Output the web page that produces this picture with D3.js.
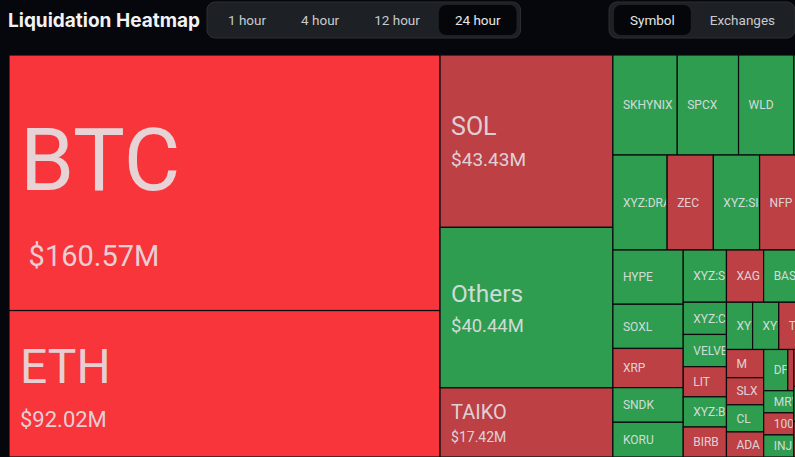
<!DOCTYPE html>
<meta charset="utf-8">
<style>
  html, body { margin: 0; padding: 0; background: #06070c; }
  svg { display: block; }
  .cell rect { stroke: #0a0a0e; stroke-width: 1.2px; }
  .cell text { font-family: Roboto, "Noto Sans", sans-serif; fill: #e4e4e8; fill-opacity: 0.9; }
  .btn text { font-family: Roboto, "Noto Sans", sans-serif; font-size: 13.5px; fill: #c9cacd; }
  .title { font-family: Inter, Roboto, sans-serif; font-weight: 700; font-size: 19px; fill: #f2f2f4; }
</style>
<body>
  <script src="https://cdn.jsdelivr.net/npm/d3@7"></script>
  <script>

    var width = 795, height = 457;

    // header buttons
    var timeframes = ["1 hour", "4 hour", "12 hour", "24 hour"];
    var groupings = ["Symbol", "Exchanges"];
    var activeTimeframe = "24 hour", activeGrouping = "Symbol";

    // liquidation totals, $M (tone: hot = heavy long liq, down = long, up = short)
    var majors = [
      { name: "BTC", value: 160.57, tone: "hot" },
      { name: "ETH", value: 92.02, tone: "hot" }
    ];
    var mids = [
      { name: "SOL", value: 43.43, tone: "down" },
      { name: "Others", value: 40.44, tone: "up" },
      { name: "TAIKO", value: 17.42, tone: "down" }
    ];
    var rowA = [
      { name: "SKHYNIX", value: 9.38, tone: "up" },
      { name: "SPCX", value: 8.94, tone: "up" },
      { name: "WLD", value: 8.06, tone: "up" },
      { name: "PUMP", value: 5.42, tone: "up" }
    ];
    var rowB = [
      { name: "XYZ:DRAM", value: 7.51, tone: "up" },
      { name: "ZEC", value: 6.40, tone: "down" },
      { name: "XYZ:SILVER", value: 6.40, tone: "up" },
      { name: "NFP", value: 5.70, tone: "down" },
      { name: "TRUMP", value: 4.19, tone: "down" }
    ];
    var stackA = [
      { name: "HYPE", value: 5.56, tone: "up" },
      { name: "SOXL", value: 4.53, tone: "up" },
      { name: "XRP", value: 4.02, tone: "down" },
      { name: "SNDK", value: 3.55, tone: "up" },
      { name: "KORU", value: 3.56, tone: "up" }
    ];
    var stackB = [
      { name: "XYZ:SP500", value: 3.29, tone: "up" },
      { name: "XYZ:COPPER", value: 2.03, tone: "up" },
      { name: "VELVET", value: 2.03, tone: "up" },
      { name: "LIT", value: 1.90, tone: "down" },
      { name: "XYZ:BABA", value: 1.90, tone: "up" },
      { name: "BIRB", value: 1.89, tone: "down" }
    ];
    var rowC1 = [
      { name: "XAG", value: 2.83, tone: "down" },
      { name: "BASED", value: 2.83, tone: "up" },
      { name: "ENA", value: 2.30, tone: "down" }
    ];
    var rowC2 = [
      { name: "XYZ:NVDA", value: 1.80, tone: "up" },
      { name: "XYZ:TSLA", value: 1.80, tone: "up" },
      { name: "TAO", value: 1.80, tone: "down" },
      { name: "SUI", value: 1.80, tone: "up" }
    ];
    var stackC1 = [
      { name: "M", value: 1.53, tone: "down" },
      { name: "SLX", value: 1.47, tone: "down" },
      { name: "CL", value: 1.47, tone: "up" },
      { name: "ADA", value: 1.36, tone: "down" }
    ];
    var pairDF = [
      { name: "DF", value: 1.45, tone: "up" },
      { name: "ASTER", value: 0.36, tone: "down" }
    ];
    var stackC2 = [
      { name: "MRVL", value: 0.97, tone: "up" },
      { name: "1000PEPE", value: 0.97, tone: "down" },
      { name: "INJ", value: 0.97, tone: "up" }
    ];
    var stackC3 = [
      { name: "LINK", value: 2.00, tone: "down" },
      { name: "AVAX", value: 1.90, tone: "up" },
      { name: "DOGE", value: 1.93, tone: "down" }
    ];

    var color = d3.scaleOrdinal()
      .domain(["hot", "down", "up"])
      .range(["#f8353a", "#bd4044", "#2f9d50"]);

    // label sizes for the cells that also show the amount
    var labelSize = d3.scaleLinear().domain([17.42, 43.43, 92.02, 160.57]).range([20, 25, 48, 87]);
    var amountSize = d3.scaleLinear().domain([17.42, 43.43, 92.02, 160.57]).range([14, 19, 22, 29]);

    var svg = d3.select("body").append("svg")
      .attr("width", width)
      .attr("height", height);

    // ---- header ----
    svg.append("text").attr("class", "title")
      .attr("x", 8).attr("y", 27)
      .text("Liquidation Heatmap");

    function buttonGroup(labels, active, x0) {
      var g = svg.append("g").attr("class", "btn");
      var bg = g.append("rect")
        .attr("y", 2).attr("height", 36).attr("rx", 8)
        .attr("fill", "#1d2025").attr("stroke", "#2b2e34");
      var x = x0 + 5;
      labels.forEach(function (label) {
        var b = g.append("g");
        var r = b.append("rect").attr("y", 5).attr("height", 30).attr("rx", 7)
          .attr("fill", label === active ? "#05060a" : "none");
        var t = b.append("text").attr("y", 25).text(label)
          .style("fill", label === active ? "#e6e6e8" : null);
        var w = t.node().getComputedTextLength() + 32;
        r.attr("x", x).attr("width", w);
        t.attr("x", x + w / 2).attr("text-anchor", "middle");
        x += w + 3;
      });
      bg.attr("x", x0).attr("width", x - x0 + 1);
    }
    buttonGroup(timeframes, activeTimeframe, 207);
    buttonGroup(groupings, activeGrouping, 609);

    // ---- treemap ----
    var data = { name: "root", children: [
      { name: "majors", children: majors },
      { name: "mids", children: mids },
      { name: "rest", children: [
        { name: "rowA", children: rowA },
        { name: "rowB", children: rowB },
        { name: "lower", children: [
          { name: "stackA", children: stackA },
          { name: "stackB", children: stackB },
          { name: "stackC", children: [
            { name: "rowC1", children: rowC1 },
            { name: "rowC2", children: rowC2 },
            { name: "tail", children: [
              { name: "stackC1", children: stackC1 },
              { name: "stackC2", children: [{ name: "pairDF", children: pairDF }].concat(stackC2) },
              { name: "stackC3", children: stackC3 }
            ] }
          ] }
        ] }
      ] }
    ] };

    var root = d3.hierarchy(data).sum(function (d) { return d.value || 0; });

    // map runs past the right edge of the window, like the page does
    d3.treemap()
      .tile(d3.treemapSliceDice)
      .size([822, 402])
      (root);

    var map = svg.append("g").attr("transform", "translate(9,55)");

    var leaf = map.selectAll("g")
      .data(root.leaves())
      .join("g")
      .attr("class", "cell")
      .attr("transform", function (d) { return "translate(" + d.x0 + "," + d.y0 + ")"; });

    leaf.append("clipPath")
      .attr("id", function (d, i) { return "clip" + i; })
      .append("rect")
      .attr("width", function (d) { return Math.max(0, d.x1 - d.x0 - 1); })
      .attr("height", function (d) { return d.y1 - d.y0; });

    leaf.append("rect")
      .attr("width", function (d) { return d.x1 - d.x0; })
      .attr("height", function (d) { return d.y1 - d.y0; })
      .attr("fill", function (d) { return color(d.data.tone); });

    leaf.each(function (d, i) {
      var g = d3.select(this).append("g").attr("clip-path", "url(#clip" + i + ")");
      var w = d.x1 - d.x0, h = d.y1 - d.y0;
      if (w > 150 && h > 60) {
        var L = labelSize(d.data.value), V = amountSize(d.data.value);
        var extra = Math.max(0, L - 48) * 0.22; // biggest tile spreads its lines a bit
        var top = h / 2 - (L + V) * 1.5 / 2;
        g.append("text")
          .attr("x", 11)
          .attr("y", top + L * 1.08)
          .style("font-size", L + "px")
          .text(d.data.name);
        g.append("text")
          .attr("x", 11 + extra)
          .attr("y", top + L * 1.5 + V * 1.08 + extra)
          .style("font-size", V + "px")
          .text("$" + d.data.value.toFixed(2) + "M");
      } else {
        g.append("text")
          .attr("x", 10)
          .attr("y", h / 2)
          .attr("dy", "0.35em")
          .style("font-size", "12px")
          .text(d.data.name);
      }
    });

  </script>
</body>
